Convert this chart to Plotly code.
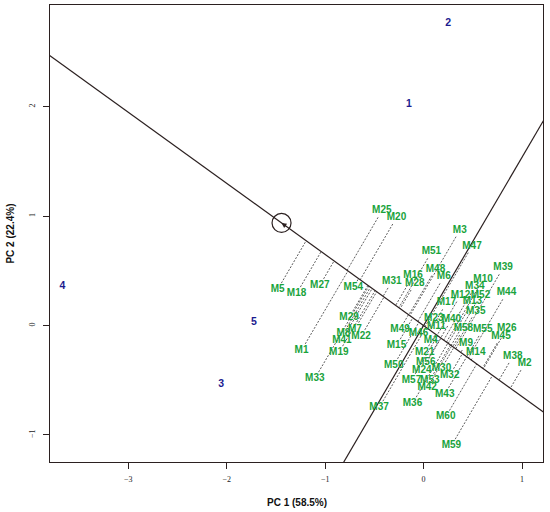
import numpy as np
import plotly.graph_objects as go

# genotype scores (PC1, PC2)
genotypes = ["M%d" % i for i in range(1, 61)]
gen_pc1 = [-1.240, 1.027, 0.368, 0.073, -1.483, 0.205, -0.698, -0.815, 0.431, 0.604,
           0.131, 0.375, 0.496, 0.530, -0.275, -0.107, 0.232, -1.290, -0.861, -0.275,
           0.012, -0.635, 0.104, -0.018, -0.424, 0.845, -1.054, -0.089, -0.757, 0.182,
           -0.323, 0.266, -1.105, 0.520, 0.530, -0.113, -0.452, 0.906, 0.807, 0.283,
           -0.830, 0.036, 0.215, 0.842, 0.786, -0.052, 0.492, 0.121, -0.239, -0.303,
           0.080, 0.578, 0.063, -0.714, 0.601, 0.022, -0.123, 0.405, 0.283, 0.225]
gen_pc2 = [-0.226, -0.349, 0.871, -0.134, 0.329, 0.444, -0.032, -0.073, -0.165, 0.420,
           -0.006, 0.277, 0.216, -0.244, -0.183, 0.457, 0.207, 0.293, -0.247, 0.987,
           -0.247, -0.098, 0.067, -0.415, 1.048, -0.029, 0.368, 0.384, 0.073, -0.393,
           0.403, -0.454, -0.484, 0.353, 0.133, -0.713, -0.750, -0.283, 0.527, 0.055,
           -0.134, -0.570, -0.628, 0.298, -0.101, -0.070, 0.725, 0.515, -0.032, -0.363,
           0.673, 0.277, -0.500, 0.347, -0.036, -0.342, -0.500, -0.027, -1.097, -0.835]

# environment scores
environments = ["1", "2", "3", "4", "5"]
env_pc1 = [-0.150, 0.249, -2.056, -3.670, -1.724]
env_pc2 = [2.020, 2.766, -0.535, 0.359, 0.030]

# average environment coordinate (circle)
avg_env = [-1.443, 0.938]

x_range = [-3.795, 1.213]
y_range = [-1.247, 2.93]

line_col = "#2b2020"
green = "#1aa33c"
blue = "#1b1b8f"

d = np.array(avg_env) / np.linalg.norm(avg_env)
perp = np.array([d[1], -d[0]])
if perp[1] < 0:
    perp = -perp

fig = go.Figure()

# dashed projections from genotypes onto the average environment axis
xs, ys = [], []
trim = 0.07
for px, py in zip(gen_pc1, gen_pc2):
    p = np.array([px, py])
    proj = np.dot(p, d) * d
    v = proj - p
    dist = np.linalg.norm(v)
    if dist <= trim:
        continue
    start = p + v / dist * trim
    xs += [start[0], proj[0], None]
    ys += [start[1], proj[1], None]
fig.add_trace(go.Scatter(x=xs, y=ys, mode="lines",
                         line=dict(color="#333333", width=0.8, dash="2px,1.5px"),
                         hoverinfo="skip"))

# average environment axis and its perpendicular, both through the origin
t = np.array([-10, 10])
fig.add_trace(go.Scatter(x=t * d[0], y=t * d[1], mode="lines",
                         line=dict(color=line_col, width=1.2), hoverinfo="skip"))
fig.add_trace(go.Scatter(x=t * perp[0], y=t * perp[1], mode="lines",
                         line=dict(color=line_col, width=1.2), hoverinfo="skip"))

fig.add_trace(go.Scatter(x=[avg_env[0]], y=[avg_env[1]], mode="markers",
                         marker=dict(symbol="circle-open", size=19, color=line_col,
                                     line=dict(color=line_col, width=1.2)),
                         hoverinfo="skip"))

fig.add_trace(go.Scatter(x=gen_pc1, y=gen_pc2, mode="text", text=genotypes,
                         textfont=dict(family="Liberation Sans", size=10,
                                       color=green, weight="bold"),
                         cliponaxis=False))
fig.add_trace(go.Scatter(x=env_pc1, y=env_pc2, mode="text", text=environments,
                         textfont=dict(family="Liberation Sans", size=10.5,
                                       color=blue, weight="bold"),
                         cliponaxis=False))

fig.add_annotation(x=avg_env[0], y=avg_env[1], ax=7, ay=5, text="",
                   showarrow=True, arrowhead=2, arrowsize=1, arrowwidth=1,
                   arrowcolor=line_col)

axis_common = dict(showgrid=False, zeroline=False, showline=True, mirror=True,
                   linecolor=line_col, linewidth=1.2, ticks="outside", ticklen=6,
                   tickcolor=line_col, tickwidth=1, automargin=False,
                   tickfont=dict(family="Liberation Serif", size=8, color="#222222"))

fig.update_xaxes(range=x_range, tickvals=[-3, -2, -1, 0, 1], ticklabelstandoff=3,
                 **axis_common)
fig.update_yaxes(range=y_range, tickvals=[-1, 0, 1, 2], tickangle=-90,
                 ticklabelstandoff=5, **axis_common)

fig.add_annotation(text="PC 1 (58.5%)", xref="paper", yref="paper", x=0.5, y=-0.088,
                   showarrow=False, yanchor="middle",
                   font=dict(family="Liberation Sans", size=10, color="#111111",
                             weight="bold"))
fig.add_annotation(text="PC 2 (22.4%)", xref="paper", yref="paper", x=-0.081, y=0.5,
                   showarrow=False, textangle=-90, xanchor="center",
                   font=dict(family="Liberation Sans", size=10, color="#111111",
                             weight="bold"))

fig.update_layout(width=550, height=512, showlegend=False,
                  margin=dict(l=50, r=7, t=5, b=50),
                  plot_bgcolor="white", paper_bgcolor="white")

fig.write_html("out.html", config={"displayModeBar": False},
               post_script="document.body.style.margin='0';")
